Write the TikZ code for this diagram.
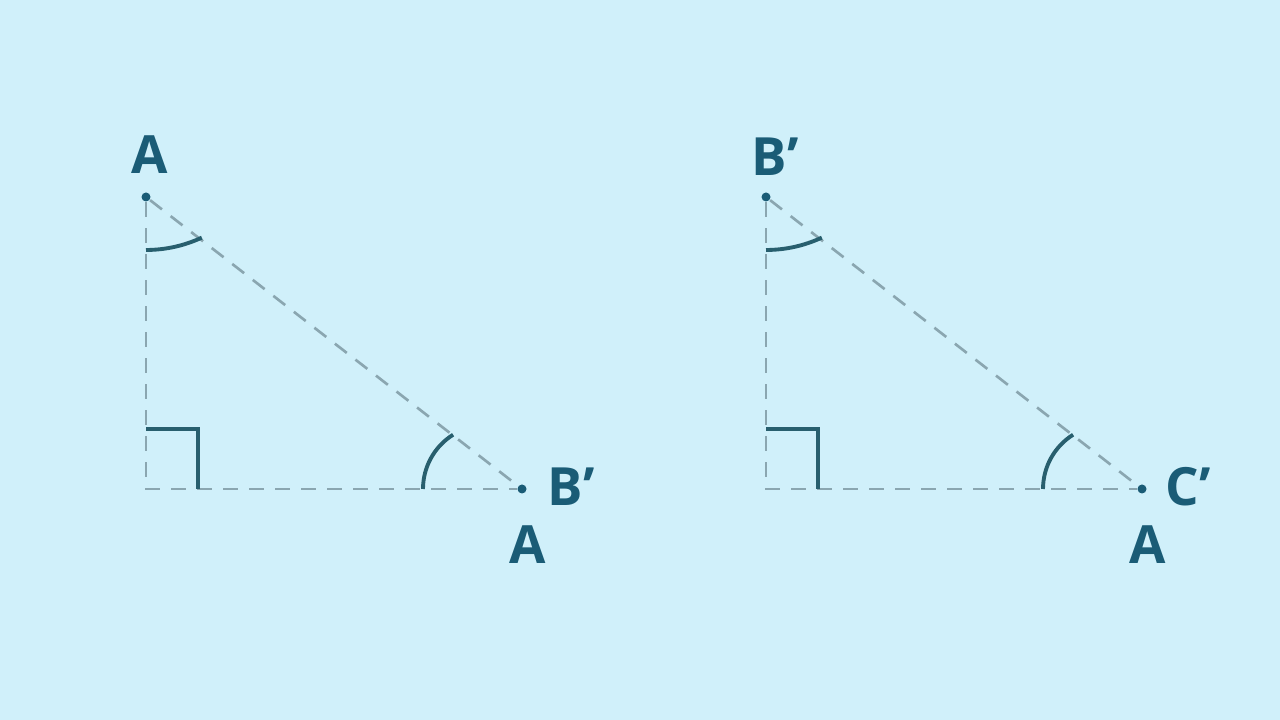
\documentclass[tikz,border=0pt]{standalone}
\usepackage{fontspec}
\setmainfont{Open Sans}
\usetikzlibrary{calc}
\definecolor{bgblue}{RGB}{208,240,250}
\definecolor{darkteal}{RGB}{26,92,118}
\definecolor{markteal}{RGB}{40,95,110}
\definecolor{dashgray}{RGB}{138,166,176}
\tikzset{
  dot/.style={circle,fill=darkteal,inner sep=0pt,minimum size=0.09cm},
  side/.style={draw=dashgray,line width=0.75pt,dash pattern=on 0.15cm off 0.11cm},
  anglemark/.style={draw=markteal,line width=1.1pt},
  vlabel/.style={inner sep=0pt,text=darkteal,font=\fontsize{15}{17}\selectfont\bfseries}
}

\begin{document}
\begin{tikzpicture}
  \fill[bgblue] (0,0) rectangle (12.8,7.2);
  \useasboundingbox (0,0) rectangle (12.8,7.2);

  % Left triangle
  \node[dot] (topL) at (1.46,5.23) {};
  \coordinate (cornerL) at (1.46,2.31);
  \node[dot] (rightL) at (5.22,2.31) {};
  \draw[side] (topL) -- (cornerL) -- (rightL);
  \draw[side] (topL) -- (rightL);
  \draw[anglemark] ($(cornerL)+(0,0.6)$) -- ++(0.52,0) -- ++(0,-0.6);
  \draw[anglemark] ($(topL)+(0,-0.53)$) arc[start angle=-90,end angle=-65,radius=1.32];
  \draw[anglemark] ($(rightL)+(-0.99,0)$) arc[start angle=180,end angle=122,radius=0.64];
  \node[vlabel] (labAL) at (1.50,5.65) {A};
  \node[vlabel,anchor=west] (labBL) at (5.47,2.33) {B’};
  \node[vlabel] (labAL2) at (5.28,1.75) {A};

  % Right triangle
  \node[dot] (topR) at (7.66,5.23) {};
  \coordinate (cornerR) at (7.66,2.31);
  \node[dot] (rightR) at (11.42,2.31) {};
  \draw[side] (topR) -- (cornerR) -- (rightR);
  \draw[side] (topR) -- (rightR);
  \draw[anglemark] ($(cornerR)+(0,0.6)$) -- ++(0.52,0) -- ++(0,-0.6);
  \draw[anglemark] ($(topR)+(0,-0.53)$) arc[start angle=-90,end angle=-65,radius=1.32];
  \draw[anglemark] ($(rightR)+(-0.99,0)$) arc[start angle=180,end angle=122,radius=0.64];
  \node[vlabel] (labBR) at (7.75,5.63) {B’};
  \node[vlabel,anchor=west] (labCR) at (11.65,2.33) {C’};
  \node[vlabel] (labAR) at (11.48,1.75) {A};
\end{tikzpicture}
\end{document}
